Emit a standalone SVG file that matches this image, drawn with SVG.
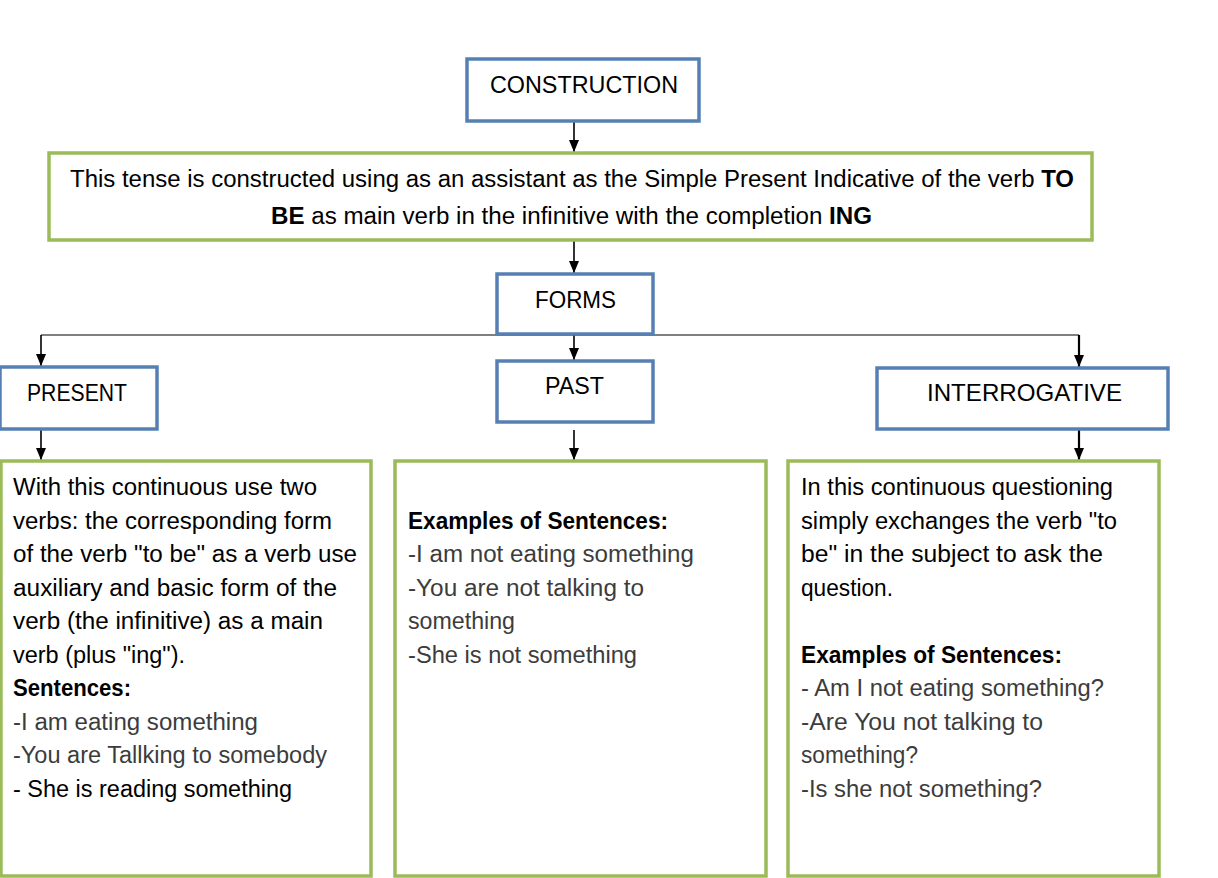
<svg xmlns="http://www.w3.org/2000/svg" width="1218" height="878" viewBox="0 0 1218 878">
<defs>
<style>
.blue{fill:#fff;stroke:#5680B3;stroke-width:3.5}
.green{fill:#fff;stroke:#9BBB59;stroke-width:3.5}
.lbl{font-family:"Liberation Sans",Arial,sans-serif;font-size:24px;fill:#000}
.t{font-family:"Liberation Sans",Arial,sans-serif;font-size:23px;fill:#000}
.g{fill:#3c3c3c}
.b{font-weight:bold}
.c{fill:none;stroke:#000;stroke-width:1.6}
</style>
<marker id="ah" markerWidth="12" markerHeight="10" refX="12" refY="5" orient="auto" markerUnits="userSpaceOnUse" viewBox="0 0 12 10">
<path d="M0,0 L12,5 L0,10 z" fill="#000"/>
</marker>
</defs>
<rect width="1218" height="878" fill="#fff"/>
<g id="connectors">
<path class="c" d="M574,122 V152" marker-end="url(#ah)"/>
<path class="c" d="M574,241 V273" marker-end="url(#ah)"/>
<path class="c" d="M41,335 H1079" style="stroke-width:1.2"/>
<path class="c" d="M41,335 V366" marker-end="url(#ah)"/>
<path class="c" d="M574,335 V360" marker-end="url(#ah)"/>
<path class="c" d="M1079,335 V367" marker-end="url(#ah)" style="stroke-width:2.2"/>
<path class="c" d="M41,430 V460" marker-end="url(#ah)"/>
<path class="c" d="M574,430 V460" marker-end="url(#ah)"/>
<path class="c" d="M1079,430 V460" marker-end="url(#ah)" style="stroke-width:2.2"/>
</g>
<g id="construction">
<rect class="blue" x="467" y="59" width="232" height="62"/>
<text class="lbl" x="490" y="93" textLength="188" lengthAdjust="spacingAndGlyphs">CONSTRUCTION</text>
</g>
<g id="definition">
<rect class="green" x="49" y="153" width="1043" height="87"/>
<text class="t" x="70" y="187" textLength="1004" lengthAdjust="spacingAndGlyphs">This tense is constructed using as an assistant as the Simple Present Indicative of the verb <tspan class="b">TO</tspan></text>
<text class="t" x="271" y="224" textLength="601" lengthAdjust="spacingAndGlyphs"><tspan class="b">BE</tspan> as main verb in the infinitive with the completion <tspan class="b">ING</tspan></text>
</g>
<g id="forms">
<rect class="blue" x="497" y="274" width="156" height="60"/>
<text class="lbl" x="535" y="308" textLength="81" lengthAdjust="spacingAndGlyphs">FORMS</text>
</g>
<g id="present">
<rect class="blue" x="0" y="367" width="157" height="62"/>
<text class="lbl" x="27" y="401" textLength="100" lengthAdjust="spacingAndGlyphs">PRESENT</text>
</g>
<g id="past">
<rect class="blue" x="497" y="361" width="156" height="61"/>
<text class="lbl" x="545" y="394" textLength="59" lengthAdjust="spacingAndGlyphs">PAST</text>
</g>
<g id="interrogative">
<rect class="blue" x="877" y="368" width="291" height="61"/>
<text class="lbl" x="927" y="401" textLength="195" lengthAdjust="spacingAndGlyphs">INTERROGATIVE</text>
</g>
<g id="present-detail">
<rect class="green" x="1" y="461" width="370" height="415"/>
<text class="t" x="13" y="495" textLength="304" lengthAdjust="spacingAndGlyphs">With this continuous use two</text>
<text class="t" x="13" y="529" textLength="319" lengthAdjust="spacingAndGlyphs">verbs: the corresponding form</text>
<text class="t" x="13" y="562" textLength="344" lengthAdjust="spacingAndGlyphs">of the verb "to be" as a verb use</text>
<text class="t" x="13" y="596" textLength="324" lengthAdjust="spacingAndGlyphs">auxiliary and basic form of the</text>
<text class="t" x="13" y="629" textLength="310" lengthAdjust="spacingAndGlyphs">verb (the infinitive) as a main</text>
<text class="t" x="13" y="663" textLength="172" lengthAdjust="spacingAndGlyphs">verb (plus "ing").</text>
<text class="t b" x="13" y="696" textLength="118" lengthAdjust="spacingAndGlyphs">Sentences:</text>
<text class="t g" x="13" y="730" textLength="245" lengthAdjust="spacingAndGlyphs">-I am eating something</text>
<text class="t g" x="13" y="763" textLength="314" lengthAdjust="spacingAndGlyphs">-You are Tallking to somebody</text>
<text class="t" x="13" y="797" textLength="279" lengthAdjust="spacingAndGlyphs">- She is reading something</text>
</g>
<g id="past-detail">
<rect class="green" x="395" y="461" width="371" height="415"/>
<text class="t b" x="408" y="529" textLength="260" lengthAdjust="spacingAndGlyphs">Examples of Sentences:</text>
<text class="t g" x="408" y="562" textLength="286" lengthAdjust="spacingAndGlyphs">-I am not eating something</text>
<text class="t g" x="408" y="596" textLength="236" lengthAdjust="spacingAndGlyphs">-You are not talking to</text>
<text class="t g" x="408" y="629" textLength="107" lengthAdjust="spacingAndGlyphs">something</text>
<text class="t g" x="408" y="663" textLength="229" lengthAdjust="spacingAndGlyphs">-She is not something</text>
</g>
<g id="interrogative-detail">
<rect class="green" x="788" y="461" width="371" height="415"/>
<text class="t" x="801" y="495" textLength="312" lengthAdjust="spacingAndGlyphs">In this continuous questioning</text>
<text class="t" x="801" y="529" textLength="316" lengthAdjust="spacingAndGlyphs">simply exchanges the verb "to</text>
<text class="t" x="801" y="562" textLength="302" lengthAdjust="spacingAndGlyphs">be" in the subject to ask the</text>
<text class="t" x="801" y="596" textLength="92" lengthAdjust="spacingAndGlyphs">question.</text>
<text class="t b" x="801" y="663" textLength="261" lengthAdjust="spacingAndGlyphs">Examples of Sentences:</text>
<text class="t g" x="801" y="696" textLength="303" lengthAdjust="spacingAndGlyphs">- Am I not eating something?</text>
<text class="t g" x="801" y="730" textLength="242" lengthAdjust="spacingAndGlyphs">-Are You not talking to</text>
<text class="t g" x="801" y="763" textLength="117" lengthAdjust="spacingAndGlyphs">something?</text>
<text class="t g" x="801" y="797" textLength="241" lengthAdjust="spacingAndGlyphs">-Is she not something?</text>
</g>
</svg>
